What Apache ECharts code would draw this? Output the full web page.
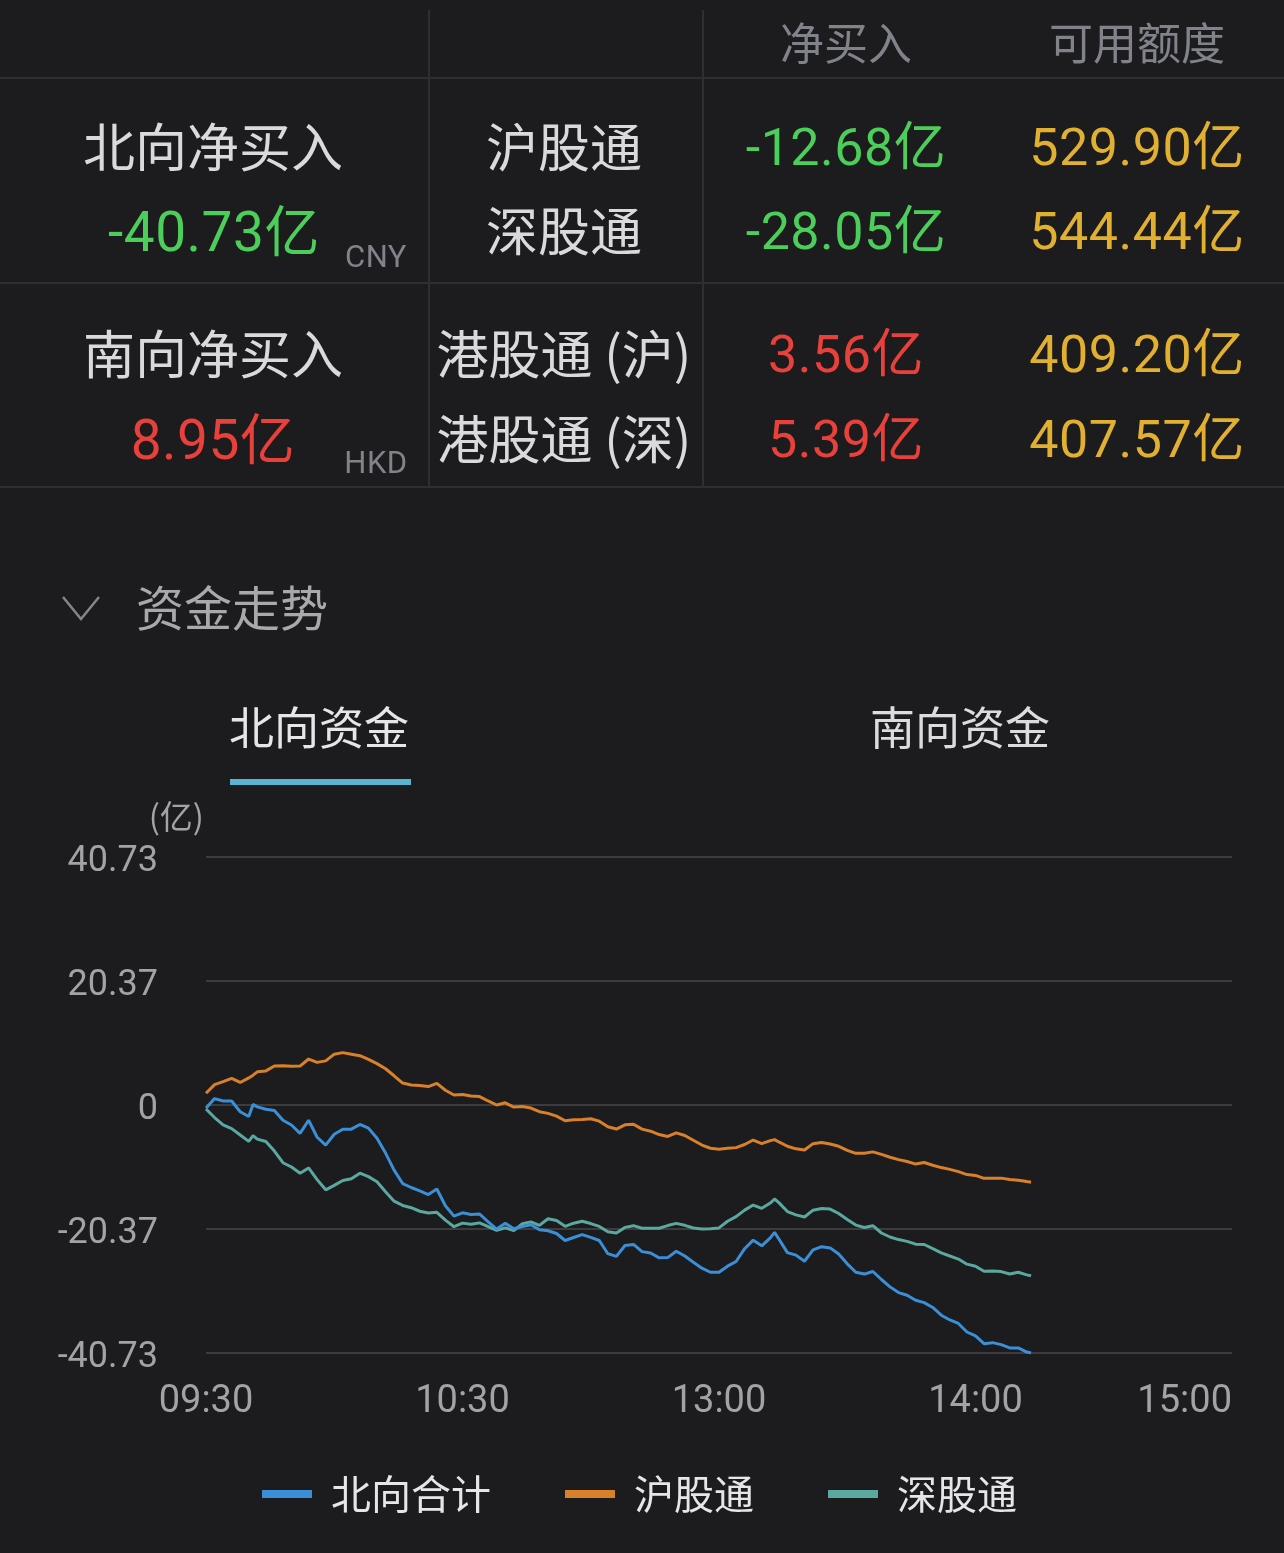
<!DOCTYPE html>
<html>
<head>
<meta charset="utf-8">
<script src="https://cdn.jsdelivr.net/npm/echarts@6/dist/echarts.min.js"></script>
<style>
  html,body{margin:0;padding:0;background:#1c1c1e;}
  #page{position:relative;width:1284px;height:1553px;overflow:hidden;background:#1c1c1e;font-family:'Noto Sans CJK SC',sans-serif;}
  #chart{position:absolute;left:0;top:0;width:1284px;height:1553px;}
  .t{position:absolute;white-space:nowrap;line-height:1;transform:translate(-50%,-50%);}
  .num{font-family:Roboto,'Noto Sans CJK SC',sans-serif;letter-spacing:0.5px;}
  .hl{position:absolute;left:0;width:1284px;height:2px;background:#2f2f32;}
  .vl{position:absolute;top:10px;height:477px;width:2px;background:#2f2f32;}
</style>
</head>
<body>
<div id="page">
  <div id="chart"></div>
</div>
<script>
// ---- table data ----
const tableHeader = ['净买入', '可用额度'];
const northTitle = '北向净买入';
const northTotal = '-40.73亿';
const southTitle = '南向净买入';
const southTotal = '8.95亿';
const channelNames = ['沪股通', '深股通', '港股通 (沪)', '港股通 (深)'];
const channelNet = ['-12.68亿', '-28.05亿', '3.56亿', '5.39亿'];
const channelQuota = ['529.90亿', '544.44亿', '409.20亿', '407.57亿'];

// ---- chart data ----
const xLabels = ['09:30', '10:30', '13:00', '14:00', '15:00'];
const yLabels = ['-40.73', '-20.37', '0', '20.37', '40.73'];
const seriesNames = ['北向合计', '沪股通', '深股通'];
const minutes = [0,2,4,6,8,10,11,12,14,16,18,20,22,24,26,28,30,32,34,36,38,40,42,44,46,48,50,52,54,56,58,60,62,64,66,68,70,72,74,76,78,80,82,84,86,88,90,92,94,96,98,100,102,104,106,108,110,112,114,116,118,120,122,124,126,128,130,132,133,134,136,138,140,142,144,146,148,150,152,154,156,158,160,162,164,166,168,170,172,174,176,178,180,182,184,186,188,190,192,193];
const northTotalFlow = [-0.55,1.05,0.65,0.66,-1.10,-1.88,0.10,-0.31,-0.70,-0.90,-2.50,-3.28,-4.65,-2.50,-5.30,-6.60,-4.80,-3.97,-3.97,-3.20,-3.80,-5.45,-7.90,-10.70,-12.90,-13.55,-14.10,-14.70,-13.80,-16.55,-18.25,-17.70,-17.97,-17.90,-19.20,-20.37,-19.44,-20.33,-19.95,-19.67,-20.48,-20.66,-21.10,-22.25,-21.76,-21.29,-21.75,-22.25,-24.42,-24.86,-23.07,-22.90,-24.08,-24.30,-25.10,-25.06,-24.02,-24.79,-25.83,-26.80,-27.47,-27.47,-26.47,-25.70,-23.60,-22.20,-23.13,-21.82,-20.92,-22.00,-24.24,-24.66,-25.66,-23.78,-23.27,-23.47,-24.48,-26.09,-27.46,-27.77,-27.34,-28.66,-29.87,-30.81,-31.24,-32.06,-32.46,-33.25,-34.52,-35.30,-35.88,-37.28,-37.92,-39.20,-39.03,-39.35,-39.90,-39.90,-40.57,-40.73];
const shanghaiFlow = [1.92,3.35,3.83,4.38,3.70,4.45,4.90,5.45,5.60,6.40,6.46,6.35,6.39,7.55,7.00,7.25,8.35,8.60,8.35,8.10,7.50,6.80,5.95,4.80,3.60,3.28,3.20,3.03,3.56,2.42,1.65,1.72,1.49,1.38,0.66,0.00,0.36,-0.34,-0.26,-0.50,-1.10,-1.38,-1.83,-2.58,-2.43,-2.39,-2.27,-2.65,-3.58,-3.95,-3.26,-3.17,-3.96,-4.30,-4.85,-5.17,-4.58,-5.00,-5.78,-6.58,-7.10,-7.25,-7.11,-7.00,-6.49,-5.75,-6.34,-5.85,-5.69,-6.07,-6.78,-7.20,-7.38,-6.35,-6.16,-6.40,-6.78,-7.45,-7.94,-7.94,-7.70,-8.10,-8.58,-8.97,-9.27,-9.70,-9.45,-9.90,-10.28,-10.57,-10.95,-11.43,-11.57,-12.05,-12.03,-12.01,-12.25,-12.37,-12.58,-12.68];
const shenzhenFlow = [-0.66,-2.06,-3.26,-3.88,-4.93,-5.97,-5.03,-5.60,-5.99,-7.56,-9.48,-10.18,-11.22,-10.34,-12.25,-13.93,-13.20,-12.41,-12.10,-11.20,-11.76,-12.60,-14.26,-15.80,-16.50,-16.87,-17.45,-17.73,-17.62,-18.90,-19.99,-19.40,-19.60,-19.36,-19.99,-20.60,-20.17,-20.63,-19.50,-19.20,-19.78,-18.68,-18.98,-19.93,-19.41,-19.10,-19.47,-19.94,-20.81,-21.03,-20.10,-19.82,-20.24,-20.24,-20.24,-19.80,-19.44,-19.76,-20.20,-20.37,-20.32,-20.19,-19.09,-18.34,-17.27,-16.43,-16.97,-16.11,-15.44,-16.03,-17.50,-18.04,-18.39,-17.27,-17.00,-17.10,-17.82,-18.81,-19.72,-20.11,-19.82,-21.02,-21.68,-22.10,-22.40,-22.86,-22.91,-23.60,-24.28,-24.80,-25.30,-26.14,-26.47,-27.30,-27.28,-27.36,-27.76,-27.47,-27.90,-28.05];

// ---- build the static panel ----
const page = document.getElementById('page');
function addText(txt, x, y, size, color, cls, align) {
  const d = document.createElement('div');
  d.className = 't' + (cls ? ' ' + cls : '');
  d.textContent = txt;
  d.style.left = x + 'px';
  d.style.top = y + 'px';
  d.style.fontSize = size + 'px';
  d.style.color = color;
  if (align === 'left') d.style.transform = 'translate(0,-50%)';
  page.appendChild(d);
}
function addDiv(cls, style) {
  const d = document.createElement('div');
  d.className = cls;
  Object.assign(d.style, style);
  page.appendChild(d);
}
addDiv('hl', {top: '77px'});
addDiv('hl', {top: '282px'});
addDiv('hl', {top: '486px'});
addDiv('vl', {left: '428px'});
addDiv('vl', {left: '702px'});

const WHITE = '#dadadc', GRAY = '#80838a', GREEN = '#4cce5b', RED = '#e8403b', GOLD = '#e2b031';
addText(tableHeader[0], 846, 41, 44, GRAY);
addText(tableHeader[1], 1137, 41, 44, GRAY);
addText(northTitle, 213, 145, 52, WHITE);
addText(northTotal, 214, 232, 55, GREEN, 'num');
addText('CNY', 376, 256, 31, GRAY, 'num');
addText(southTitle, 213, 352, 52, WHITE);
addText(southTotal, 213, 440, 55, RED, 'num');
addText('HKD', 376, 462, 31, GRAY, 'num');
const rowsY = [148, 232, 355, 440];
channelNames.forEach((n, i) => {
  addText(n, 564, rowsY[i] - 3, 52, WHITE);
  const v = channelNet[i];
  addText(v, 846, rowsY[i], 52, v.startsWith('-') ? GREEN : RED, 'num');
  addText(channelQuota[i], 1137, rowsY[i], 52, GOLD, 'num');
});

// section header
const svgNS = 'http://www.w3.org/2000/svg';
const svg = document.createElementNS(svgNS, 'svg');
svg.setAttribute('width', '1284'); svg.setAttribute('height', '1553');
svg.style.position = 'absolute'; svg.style.left = '0'; svg.style.top = '0'; svg.style.pointerEvents = 'none';
const pl = document.createElementNS(svgNS, 'polyline');
pl.setAttribute('points', '63,597 81,619 99,597');
pl.setAttribute('fill', 'none'); pl.setAttribute('stroke', '#86868a'); pl.setAttribute('stroke-width', '2.5');
svg.appendChild(pl);
page.appendChild(svg);
addText('资金走势', 136, 605, 48, '#a9a9ac', '', 'left');
addText('北向资金', 319, 725, 45, '#e6e6e8');
addText('南向资金', 960, 725, 45, '#dcdcde');
addDiv('', {position: 'absolute', left: '230px', top: '779px', width: '181px', height: '6px', background: '#5ab3d2'});

// ---- chart ----
const COLORS = ['#3b8fd6', '#d9802b', '#5aa89f'];
const flows = [northTotalFlow, shanghaiFlow, shenzhenFlow];
const chart = echarts.init(document.getElementById('chart'), null, {renderer: 'canvas'});
chart.setOption({
  backgroundColor: 'transparent',
  animation: false,
  grid: {left: 206, right: 52, top: 857, bottom: 200, containLabel: false},
  legend: {
    data: seriesNames,
    left: 257, top: 1469,
    icon: 'rect', itemWidth: 50, itemHeight: 8, itemGap: 74,
    textStyle: {color: '#e6e6e8', fontSize: 40, fontFamily: 'Noto Sans CJK SC', padding: [0, 0, 0, 14]}
  },
  xAxis: {
    type: 'value', min: 0, max: 240, interval: 60,
    axisLine: {show: false}, axisTick: {show: false}, splitLine: {show: false},
    axisLabel: {
      color: '#a3a3a7', fontSize: 38, fontFamily: 'Roboto', margin: 30,
      alignMaxLabel: 'right',
      formatter: v => xLabels[Math.round(v / 60)]
    }
  },
  yAxis: {
    type: 'value', min: -40.73, max: 40.73, interval: 20.365,
    name: '(亿)', nameLocation: 'end', nameGap: 24,
    nameTextStyle: {color: '#a3a3a7', fontSize: 33, fontFamily: 'Noto Sans CJK SC', align: 'right', padding: [0, 2, 0, 0]},
    axisLine: {show: false}, axisTick: {show: false},
    splitLine: {lineStyle: {color: '#3c3c3f', width: 2}},
    axisLabel: {
      color: '#a3a3a7', fontSize: 36, fontFamily: 'Roboto', margin: 48,
      formatter: v => '{v|' + yLabels[Math.round((v + 40.73) / 20.365)] + '}',
      rich: {v: {color: '#a3a3a7', fontSize: 36, fontFamily: 'Roboto', padding: [9, 0, 0, 0]}}
    }
  },
  series: flows.map((f, i) => ({
    name: seriesNames[i],
    type: 'line',
    showSymbol: false,
    symbol: 'none',
    color: COLORS[i],
    lineStyle: {width: 3, color: COLORS[i]},
    data: minutes.map((m, j) => [m, f[j]]),
    z: 3 - i
  }))
});
</script>
</body>
</html>
